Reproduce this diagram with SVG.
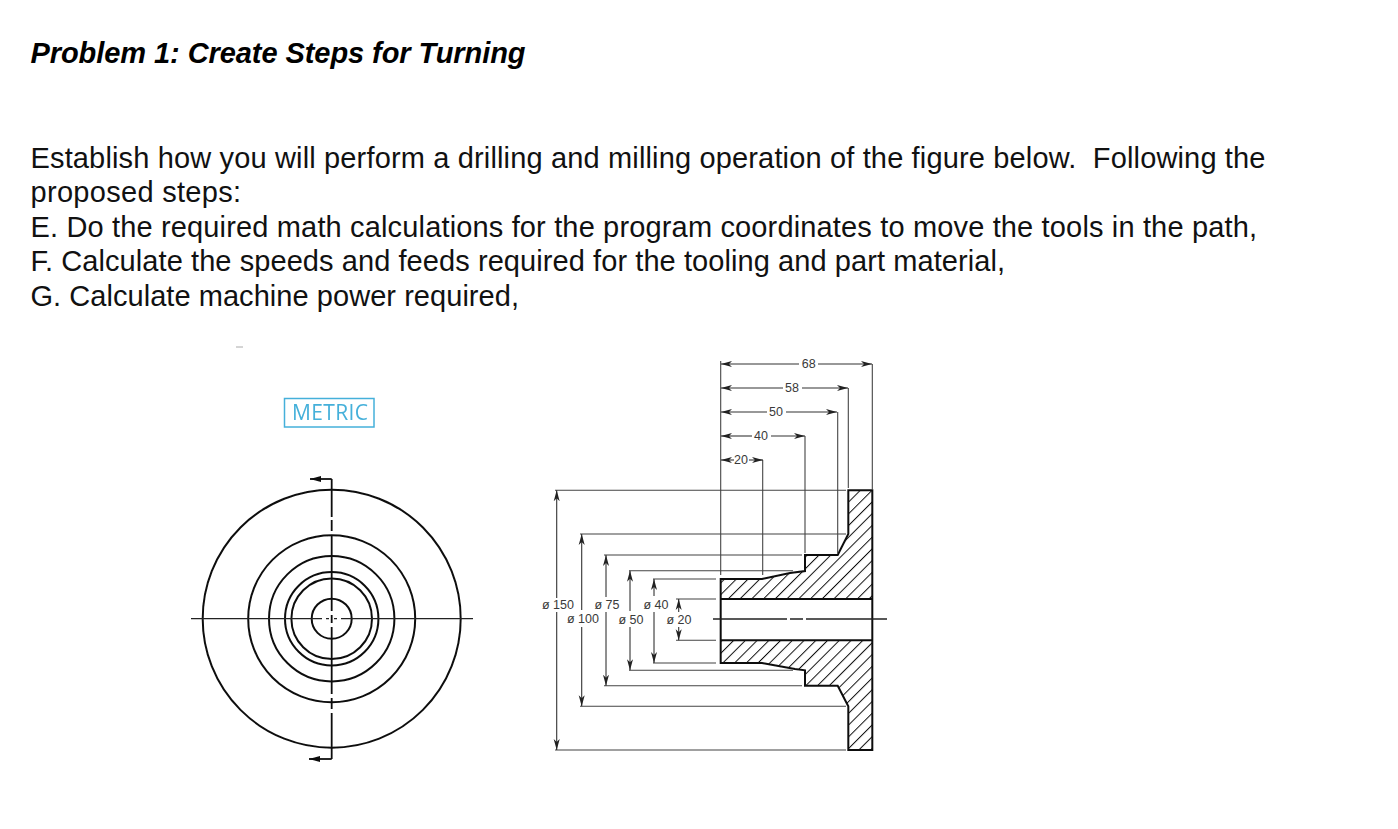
<svg xmlns="http://www.w3.org/2000/svg" width="1398" height="829" viewBox="0 0 1398 829">
<style>
.t{font-family:"Liberation Sans",Arial,sans-serif;font-size:29px;fill:#111;white-space:pre}
.h{font-weight:bold;font-style:italic;fill:#000}
.d{font-family:"Liberation Sans",Arial,sans-serif;font-size:12.500px;fill:#3a3a3a;text-anchor:middle}
.c{fill:none;stroke:#111;stroke-width:1.8}
.o{fill:none;stroke:#111;stroke-width:2}
.e{fill:none;stroke:#444;stroke-width:1.1}
.x{fill:none;stroke:#222;stroke-width:1.3}
.b{fill:none;stroke:#333;stroke-width:1.1;marker-end:url(#ah)}
</style>
<defs>
<marker id="ah" viewBox="0 0 11 7" refX="11" refY="3.500" markerWidth="11" markerHeight="7" markerUnits="userSpaceOnUse" orient="auto"><path d="M0 0.500L11 3.500L0 6.500L3 3.500Z" fill="#222"/></marker>
<marker id="ak" viewBox="0 0 11 7" refX="11" refY="3.500" markerWidth="11" markerHeight="7" markerUnits="userSpaceOnUse" orient="auto"><path d="M0 0.500L11 3.500L0 6.500Z" fill="#111"/></marker>
<pattern id="hatch" width="8.300" height="8.300" patternUnits="userSpaceOnUse" patternTransform="rotate(45 720 580)"><line x1="0" y1="0" x2="0" y2="8.300" stroke="#111" stroke-width="2"/></pattern>
<filter id="soft" x="-5%" y="-5%" width="110%" height="110%"><feGaussianBlur stdDeviation="0.35"/></filter>
</defs>
<rect width="1398" height="829" fill="#fff"/>
<g id="text">
<text class="t h" x="30.500" y="63" textLength="495" lengthAdjust="spacing">Problem 1: Create Steps for Turning</text>
<text class="t" x="30.500" y="168" xml:space="preserve" textLength="1235" lengthAdjust="spacing">Establish how you will perform a drilling and milling operation of the figure below.  Following the</text>
<text class="t" x="30.500" y="202" textLength="210.500" lengthAdjust="spacing">proposed steps:</text>
<text class="t" x="30.500" y="237" textLength="1226.500" lengthAdjust="spacing">E. Do the required math calculations for the program coordinates to move the tools in the path,</text>
<text class="t" x="30.500" y="271" textLength="974.500" lengthAdjust="spacing">F. Calculate the speeds and feeds required for the tooling and part material,</text>
<text class="t" x="30.500" y="306" textLength="488.500" lengthAdjust="spacing">G. Calculate machine power required,</text>
</g>
<line x1="236" y1="347" x2="243" y2="347" stroke="#aaa" stroke-width="1"/>
<g id="metric" filter="url(#soft)">
<rect x="284.500" y="398.500" width="89.500" height="28.500" fill="none" stroke="#45b0da" stroke-width="1.500"/>
<text x="292" y="420" font-family="'Open Sans','Liberation Sans',sans-serif" font-size="21" fill="#45b0da" textLength="76" lengthAdjust="spacing">METRIC</text>
</g>
<g id="end-view" filter="url(#soft)">
<circle class="o" cx="331.700" cy="618.700" r="129"/>
<circle class="o" cx="331.700" cy="618.700" r="83.500"/>
<circle class="o" cx="331.700" cy="618.700" r="62.700"/>
<circle class="o" cx="331.700" cy="618.700" r="46.700"/>
<circle class="o" cx="331.700" cy="618.700" r="40.300"/>
<circle class="o" cx="331.700" cy="618.700" r="20"/>
<path class="x" d="M191 618.700H322M326 618.700H329M334 618.700H337M341 618.700H473"/>
<path class="c" d="M331.700 479V517M331.700 520V531M331.700 535V611M331.700 615V623M331.700 627V694M331.700 698V709M331.700 713V759"/>
<path class="c" d="M331.700 479H310" marker-end="url(#ak)"/>
<path class="c" d="M331.700 759H309" marker-end="url(#ak)"/>
</g>
<g id="section" filter="url(#soft)">
<path fill="url(#hatch)" stroke="none" d="M720.700 579H762L790 573L805 571V555H837.700L848.300 534V490.300H872.300V599H720.700ZM720.700 640.300H872.300V750H848.300V706.300L837.700 685.700H805V670.300L795 669L762 663H720.700Z"/>
<path class="o" d="M720.700 579H762L790 573L805 571V555H837.700L848.300 534V490.300H872.300V750H848.300V706.300L837.700 685.700H805V670.300L795 669L762 663H720.700Z"/>
<path class="o" d="M720.700 599H872.300M720.700 640.300H872.300"/>
<path class="x" d="M713 619H787M790 619H803M806 619H887"/>
</g>
<g id="connectors" filter="url(#soft)">
<path class="e" d="M720.700 361V575M762.700 460V575M805 436V553M837.700 412V553M848.300 388V488M872.300 364V490"/>
<path class="e" d="M555 490.300H846M580 534H846M604 555H802M629 570.700H793M653 579H716M676 599H716M676 640.300H716M653 663H716M629 670.300H793M604 685.700H802M580 706.300H846M555 750H846"/>
<path class="b" d="M799 364H721"/><path class="b" d="M818 364H872"/>
<path class="b" d="M783 388H721"/><path class="b" d="M802 388H848"/>
<path class="b" d="M767 412H721"/><path class="b" d="M786 412H837"/>
<path class="b" d="M752 436H721"/><path class="b" d="M771 436H805"/>
<path class="b" d="M734 460H721"/><path class="b" d="M749 460H763"/>
<path class="b" d="M556.700 598V490.300"/><path class="b" d="M556.700 612V750"/>
<path class="b" d="M581.700 610V534"/><path class="b" d="M581.700 627V706.300"/>
<path class="b" d="M606 597V555"/><path class="b" d="M606 612V685.700"/>
<path class="b" d="M630 611V570.700"/><path class="b" d="M630 627V670.300"/>
<path class="b" d="M654 596V579"/><path class="b" d="M654 612V663"/>
<path class="b" d="M678.700 612V599"/><path class="b" d="M678.700 627V640.300"/>
</g>
<g id="dimensions">
<text class="d" x="808.700" y="368">68</text>
<text class="d" x="792" y="392">58</text>
<text class="d" x="776" y="416">50</text>
<text class="d" x="761" y="440">40</text>
<text class="d" x="741" y="464">20</text>
<text class="d" x="558" y="609">ø 150</text>
<text class="d" x="583" y="623">ø 100</text>
<text class="d" x="607" y="609">ø 75</text>
<text class="d" x="631" y="624">ø 50</text>
<text class="d" x="656" y="609">ø 40</text>
<text class="d" x="679" y="624">ø 20</text>
</g>
</svg>
